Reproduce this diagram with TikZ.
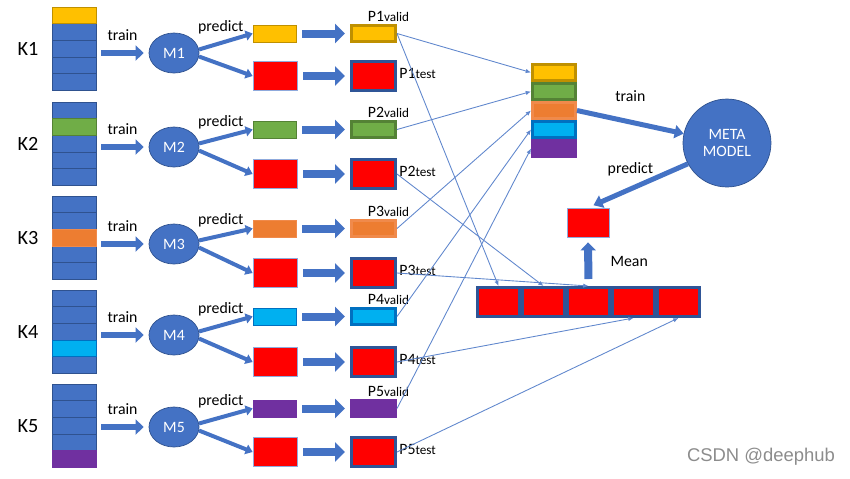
\documentclass[tikz,border=0pt]{standalone}
\usepackage{fontspec}
\setmainfont{Carlito}
\newfontfamily\markfont{Liberation Sans}
\usetikzlibrary{arrows.meta}
\usetikzlibrary{shapes.geometric}
\usetikzlibrary{positioning}

\definecolor{foldblue}{HTML}{4472C4}
\definecolor{foldedge}{HTML}{2F528F}
\definecolor{pred1}{HTML}{FFC000}
\definecolor{edge1}{HTML}{BF9000}
\definecolor{pred2}{HTML}{70AD47}
\definecolor{edge2}{HTML}{548235}
\definecolor{pred3}{HTML}{ED7D31}
\definecolor{edge3}{HTML}{F08A4B}
\definecolor{pred4}{HTML}{00B0F0}
\definecolor{edge4}{HTML}{0070C0}
\definecolor{pred5}{HTML}{7030A0}
\definecolor{edge5}{HTML}{7030A0}
\definecolor{testred}{HTML}{FF0000}
\definecolor{testedge}{HTML}{2F5597}
\definecolor{thinedge}{HTML}{8FAADC}

\newcommand{\predlabel}[2]{{\fontsize{9}{10}\selectfont P#1}{\fontsize{7.5}{9}\selectfont #2}}

\tikzstyle{fold segment}=[draw=foldedge, fill=foldblue, line width=0.4pt, minimum width=0.88cm, minimum height=0.334cm, inner sep=0]
\tikzstyle{kname}=[font=\fontsize{11.5}{13}\selectfont]
\tikzstyle{model}=[ellipse, draw=foldedge, fill=foldblue, minimum width=1cm, minimum height=0.8cm, inner sep=0, text=white]
\tikzstyle{meta model}=[circle, draw=foldedge, fill=foldblue, minimum size=1.76cm, inner sep=0, text=white, align=center]
\tikzstyle{valid box}=[line width=0.4pt, minimum width=0.86cm, minimum height=0.34cm, inner sep=0]
\tikzstyle{test box}=[draw=thinedge, fill=testred, line width=0.4pt, minimum width=0.88cm, minimum height=0.58cm, inner sep=0]
\tikzstyle{framed valid}=[line width=0.06cm, minimum width=0.88cm, minimum height=0.32cm, inner sep=0]
\tikzstyle{framed test}=[draw=testedge, fill=testred, line width=0.06cm, minimum width=0.88cm, minimum height=0.58cm, inner sep=0]
\tikzstyle{meta segment}=[line width=0.06cm, minimum width=0.86cm, minimum height=0.32cm, inner sep=0]
\tikzstyle{avg box}=[draw=testedge, fill=testred, line width=0.06cm, minimum width=0.84cm, minimum height=0.58cm, inner sep=0]
\tikzstyle{train arrow}=[foldblue, text=black, line width=0.12cm, -{Triangle[length=0.16cm, width=0.3cm]}, shorten <=0.1cm, shorten >=0.1cm]
\tikzstyle{predict arrow}=[foldblue, text=black, line width=0.08cm, -{Triangle[length=0.14cm, width=0.2cm]}]
\tikzstyle{block arrow}=[foldblue, line width=0.16cm, -{Triangle[length=0.2cm, width=0.38cm]}, shorten <=0.12cm, shorten >=0.1cm]
\tikzstyle{meta arrow}=[foldblue, text=black, line width=0.1cm, -{Triangle[length=0.18cm, width=0.26cm]}]
\tikzstyle{mean arrow}=[foldblue, text=black, line width=0.16cm, -{Triangle[length=0.16cm, width=0.3cm]}, shorten <=0.14cm, shorten >=0.1cm]
\tikzstyle{feed}=[foldblue!85, line width=0.5pt, -{Latex[length=3pt, width=2.5pt]}]

\begin{document}
\begin{tikzpicture}[x=0.02cm, y=-0.02cm, font=\fontsize{9}{10}\selectfont]
    \useasboundingbox (0, 0) rectangle (850, 478);

    \foreach \i in {1,...,5}
      \node[meta segment, fill=pred\i, draw=edge\i] (meta\i) at (554, 53.5+19*\i) {};
    \foreach \i in {1,...,5}
      \node[avg box] (avg\i) at (453.5+45*\i, 302) {};
    \node[test box, minimum width=0.84cm] (final) at (588, 222.5) {};
    \node[meta model] (metamodel) at (727, 143) {META\\MODEL};

    \foreach \i/\top/\my/\vy/\ty in {1/7/53/33.5/76, 2/102/147/129.5/174, 3/196/244/228.5/273, 4/290/335/316.5/362, 5/384/427/408.5/452} {
      \foreach \j in {1,...,5}
        \node[fold segment] (fold\i_\j) at (74, \top+8.35+16.7*\j-16.7) {};
      \node[fold segment, fill=pred\i, draw=edge\i] at (fold\i_\i) {};
      \node[kname] (kname\i) at (28, \top+42) {K\i};
      \node[model] (model\i) at (174, \my) {M\i};
      \node[valid box, fill=pred\i, draw=edge\i] (valid\i) at (274.5, \vy) {};
      \node[test box] (test\i) at (275, \ty) {};
      \node[framed valid, fill=pred\i, draw=edge\i, label={[xshift=0.3cm, label distance=0.05cm, inner sep=0]above:\predlabel{\i}{valid}}] (pvalid\i) at (373.5, \vy) {};
      \node[framed test, label={[label distance=0.04cm, yshift=0.06cm, inner sep=0]right:\predlabel{\i}{test}}] (ptest\i) at (373.5, \ty) {};

      \draw[train arrow] (fold\i_3.east |- model\i) to node[above=2pt] {train} (model\i);
      \draw[predict arrow] (model\i.8) to node[above, xshift=-0.1cm] {predict} (valid\i.west);
      \draw[predict arrow] (model\i.-8) to (test\i.west);
      \draw[block arrow] (valid\i) to (pvalid\i);
      \draw[block arrow] (test\i) to (ptest\i);
    }

    \draw[meta arrow] (meta3.east) to node[above=7pt] {train} (metamodel);
    \draw[meta arrow, shorten >=0.12cm] (metamodel.208) to node[above=1pt, xshift=-0.15cm] {predict} (final.north);
    \draw[mean arrow] (avg3.north) to node[right=0.25cm] {Mean} (final.south);

    \foreach \i in {1,...,5}
      \draw[feed] (pvalid\i.east) to (meta\i.west);
    \draw[feed] (pvalid1.east) to (avg1.north);
    \draw[feed] (ptest2.east) to (avg2.north);
    \draw[feed] (ptest3.east) to (avg3.north);
    \draw[feed] (ptest4.east) to (avg4.south);
    \draw[feed] (ptest5.east) to (avg5.south);

    \node[font=\markfont\fontsize{10.5}{12}\selectfont, text=black!45] (watermark) at (761, 457) {CSDN @deephub};
  \end{tikzpicture}
\end{document}
